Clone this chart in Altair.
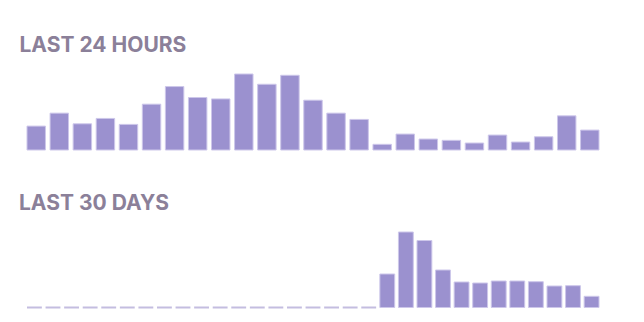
import altair as alt
import pandas as pd

hours_idx = list(range(25))
hours_vals = [24, 37, 26.3, 31.7, 25.7, 46, 63.7, 52.7, 51.3, 76.3, 66, 75, 50,
              37, 30.7, 5.7, 16, 11, 9.7, 7, 15, 8, 13.3, 34.3, 20]

days_idx = list(range(31))
days_vals = [0] * 19 + [33.5, 75.5, 67, 37.5, 25.5, 24.5, 26.5, 26.5, 25.8,
                        21.5, 21.8, 11.2]

FILL = "#9b91cf"
STROKE = "#cdc7ea"
ZERO_STROKE = "#c4bde0"


def panel(idx, vals, title, h):
    df = pd.DataFrame({"i": idx, "v": vals})
    return (
        alt.Chart(df, title=alt.TitleParams(title))
        .mark_bar(fill=FILL)
        .encode(
            x=alt.X("i:O", scale=alt.Scale(paddingInner=0.2, paddingOuter=0), axis=None),
            y=alt.Y("v:Q", scale=alt.Scale(domain=[0, max(vals)], nice=False), axis=None),
            stroke=alt.condition("datum.v == 0", alt.value(ZERO_STROKE), alt.value(STROKE)),
            strokeWidth=alt.condition("datum.v == 0", alt.value(2), alt.value(1)),
        )
        .properties(width=572, height=h)
    )


top = panel(hours_idx, hours_vals, "LAST 24 HOURS", 76)
bottom = panel(days_idx, days_vals, "LAST 30 DAYS", 75.5)

chart = (
    alt.vconcat(top, bottom, spacing=41)
    .properties(padding={"left": 19, "top": 34, "right": 0, "bottom": 0})
    .configure_view(stroke=None)
    .configure_title(
        font="Inter", fontSize=21, fontWeight=700, color="#8b8099",
        anchor="start", dx=-7, offset=18,
    )
)

chart.save("out.html", embed_options={"renderer": "svg", "actions": False})
